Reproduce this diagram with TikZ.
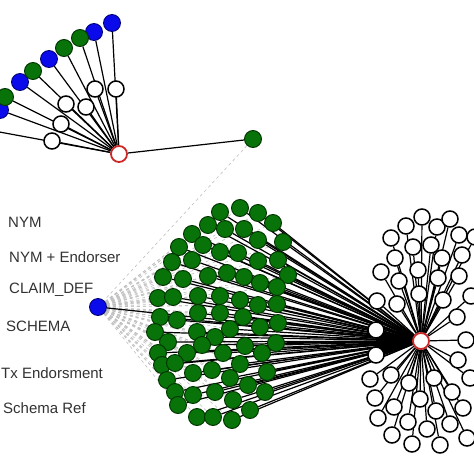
\documentclass[tikz,border=0pt]{standalone}
\usepackage{fontspec}
\setmainfont{Liberation Sans}
\pgfdeclarelayer{dashl}
\pgfdeclarelayer{edgel}
\pgfsetlayers{dashl,edgel,main}
\definecolor{ggreen}{RGB}{8,115,8}
\definecolor{gdark}{RGB}{0,50,0}
\definecolor{bblue}{RGB}{10,10,235}
\definecolor{bdark}{RGB}{0,0,110}
\definecolor{hubred}{RGB}{205,40,40}
\definecolor{labgray}{RGB}{50,50,50}
\begin{document}
\begin{tikzpicture}[x=1pt,y=-1pt,
  gnode/.style={circle,draw=gdark,fill=ggreen,line width=0.9pt,minimum size=17pt,inner sep=0pt},
  bnode/.style={circle,draw=bdark,fill=bblue,line width=0.8pt,minimum size=17pt,inner sep=0pt},
  wnode/.style={circle,draw=black,fill=white,line width=1.5pt,minimum size=16pt,inner sep=0pt},
  hubnode/.style={circle,draw=hubred,fill=white,line width=1.8pt,minimum size=16pt,inner sep=0pt},
  edge/.style={draw=black,line width=1.2pt},
  dashedge/.style={draw=black!25,dashed,line width=0.6pt},
  lab/.style={anchor=west,inner sep=0pt,text=labgray,font=\fontsize{15}{18}\selectfont}]
\useasboundingbox (0,0) rectangle (474,474);

% ---------- top cluster ----------
\node[hubnode] (h1) at (119,154) {};
\foreach \p [count=\i] in {(112,23),(94,32),(49,59),(20,82),(0,110)}
  \node[bnode] (tb\i) at \p {};
\foreach \p [count=\i] in {(80,38),(64,48),(33,71),(5,97)}
  \node[gnode] (tg\i) at \p {};
\foreach \p [count=\i] in {(116,89),(95,89),(86,107),(66,104),(61,124),(52,141)}
  \node[wnode] (tw\i) at \p {};
\coordinate (toff) at (-6,131);
\node[gnode] (tg5) at (253,139) {};

% ---------- middle ----------
\node[bnode] (b1) at (98,307) {};
\node[hubnode] (h2) at (421,341) {};

\foreach \p [count=\i] in {(220,212),(240,208),(258,213),(273,223),(208,225),(225,229),(244,229),(192,234),(258,240),(283,242),(179,247),(203,245),(220,252),(238,253),(258,261),(278,260),(172,262),(192,260),(288,275),(163,277),(183,279),(208,276),(227,273),(244,277),(260,283),(277,287),(158,298),(173,297),(198,296),(220,296),(240,300),(258,305),(277,304),(160,317),(177,320),(198,313),(220,313),(243,317),(260,327),(278,323),(155,332),(197,332),(215,337),(230,329),(168,342),(158,353),(187,353),(202,345),(223,353),(245,346),(262,353),(276,343),(162,365),(175,363),(193,373),(212,370),(230,378),(248,385),(267,372),(167,380),(175,392),(193,395),(215,392),(233,400),(250,410),(265,392),(178,405),(197,417),(213,417),(232,420),(240,364)}
  \node[gnode] (g\i) at \p {};

\node[wnode] (wa) at (376,330) {};
\node[wnode] (wb) at (376,355) {};
\foreach \p [count=\i] in {(422,217),(406,226),(437,227),(450,219),(391,238),(413,247),(431,245),(459,235),(475,237),(395,258),(442,258),(462,255),(381,272),(418,270),(399,281),(438,278),(459,276),(419,294),(377,301),(397,304),(443,300),(471,296),(457,317),(466,340),(458,360),(470,378),(370,379),(391,375),(409,383),(434,378),(452,392),(375,398),(394,407),(420,399),(436,411),(463,408),(378,418),(408,422),(427,429),(450,424),(392,435),(412,444),(440,445),(467,438)}
  \node[wnode] (w\i) at \p {};

% labels
\node[lab] (l1) at (8,222) {NYM};
\node[lab] (l2) at (9,257) {NYM + Endorser};
\node[lab] (l3) at (9,290) {CLAIM\_DEF};
\node[lab] (l4) at (6,326) {SCHEMA};
\node[lab] (l5) at (1,373) {Tx Endorsment};
\node[lab] (l6) at (3,408) {Schema Ref};

% ---------- edges ----------
\begin{pgfonlayer}{dashl}
  \draw[dashedge] (tg5) -- (b1);
  \foreach \i in {1,...,71} \draw[dashedge] (b1) -- (g\i);
\end{pgfonlayer}
\begin{pgfonlayer}{edgel}
  \foreach \i in {1,...,5} \draw[edge] (tb\i) -- (h1);
  \foreach \i in {1,...,4} \draw[edge] (tg\i) -- (h1);
  \foreach \i in {1,...,6} \draw[edge] (tw\i) -- (h1);
  \draw[edge] (toff) -- (h1);
  \draw[edge] (h1) -- (tg5);
  \draw[edge] (b1) -- (h2);
  \foreach \i in {1,...,71} \draw[edge] (g\i) -- (h2);
  \foreach \i in {1,...,44} \draw[edge] (w\i) -- (h2);
  \draw[edge] (wa) -- (h2);
  \draw[edge] (wb) -- (h2);
  \fill[black] (wa.center) -- (h2.center) -- (wb.center) -- cycle;
\end{pgfonlayer}
\end{tikzpicture}
\end{document}
